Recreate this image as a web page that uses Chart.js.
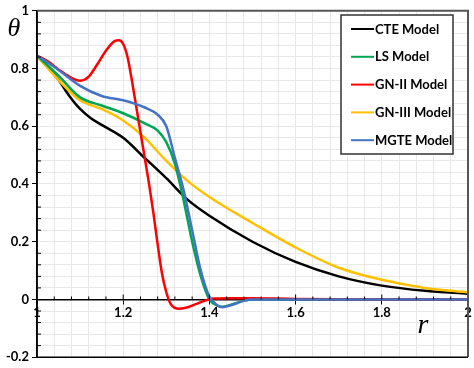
<!DOCTYPE html>
<html>
<head>
<meta charset="utf-8">
<script src="https://cdn.jsdelivr.net/npm/chart.js@4.4.1/dist/chart.umd.min.js"></script>
<style>
  html, body { margin: 0; padding: 0; background: #fff; }
  #wrap { width: 474px; height: 368px; position: relative; }
</style>
</head>
<body>
<div id="wrap"><canvas id="thetaChart"></canvas></div>
<script>
// values
const seriesNames = ['CTE Model', 'LS Model', 'GN-II Model', 'GN-III Model', 'MGTE Model'];
const seriesColors = ['#000000', '#00a651', '#ff0000', '#ffc000', '#4472c4'];

const cteR = [1, 1.05, 1.075, 1.1, 1.125, 1.15, 1.2, 1.25, 1.3, 1.35, 1.4, 1.5, 1.6, 1.7, 1.8, 1.9, 2];
const cteTheta = [0.845, 0.76, 0.705, 0.66, 0.628, 0.605, 0.56, 0.49, 0.42, 0.345, 0.29, 0.2, 0.13, 0.08, 0.048, 0.03, 0.02];

const gn3R = [1, 1.05, 1.1, 1.15, 1.2, 1.25, 1.3, 1.35, 1.4, 1.5, 1.6, 1.7, 1.8, 1.9, 2];
const gn3Theta = [0.845, 0.76, 0.69, 0.66, 0.62, 0.56, 0.48, 0.41, 0.355, 0.265, 0.18, 0.11, 0.068, 0.04, 0.025];

const lsR = [1, 1.05, 1.1, 1.15, 1.2, 1.25, 1.28, 1.3, 1.32, 1.34, 1.36, 1.38, 1.4, 1.42, 1.43, 1.45, 1.48, 1.5, 1.6, 1.8, 2];
const lsTheta = [0.845, 0.775, 0.70, 0.672, 0.645, 0.61, 0.585, 0.545, 0.47, 0.345, 0.20, 0.08, 0.0, -0.022, -0.025, -0.018, -0.004, 0, 0, 0, 0];

const mgteR = [1, 1.05, 1.1, 1.15, 1.2, 1.25, 1.28, 1.3, 1.32, 1.34, 1.36, 1.38, 1.4, 1.42, 1.43, 1.45, 1.48, 1.5, 1.6, 1.8, 2];
const mgteTheta = [0.845, 0.795, 0.74, 0.705, 0.69, 0.665, 0.64, 0.6, 0.49, 0.38, 0.24, 0.10, 0.01, -0.022, -0.027, -0.02, -0.005, 0, 0, 0, 0];

const gn2R = [1, 1.025, 1.05, 1.075, 1.1, 1.12, 1.14, 1.16, 1.18, 1.19, 1.2, 1.21, 1.22, 1.23, 1.24, 1.25, 1.26, 1.27, 1.28, 1.29, 1.3, 1.31, 1.33, 1.35, 1.37, 1.39, 1.41, 1.45, 1.5, 1.6, 1.8, 2];
const gn2Theta = [0.845, 0.825, 0.797, 0.772, 0.758, 0.772, 0.815, 0.862, 0.895, 0.898, 0.885, 0.84, 0.76, 0.67, 0.58, 0.49, 0.40, 0.30, 0.19, 0.09, 0.025, -0.015, -0.032, -0.027, -0.015, -0.004, 0.003, 0.004, 0.004, 0.002, 0, 0];

const xTicks = [1, 1.2, 1.4, 1.6, 1.8, 2];
const yTicks = [-0.2, 0, 0.2, 0.4, 0.6, 0.8, 1];

function toPoints(rs, ts) {
    return rs.map((r, i) => ({x: r, y: ts[i]}));
}

function isMajor(v, list) {
    return list.some(t => Math.abs(t - v) < 1e-6);
}

let curves = [
    [cteR, cteTheta, 4],
    [lsR, lsTheta, 2],
    [gn2R, gn2Theta, 1],
    [gn3R, gn3Theta, 3],
    [mgteR, mgteTheta, 0]
];

let datasets = curves.map((c, i) => ({
    label: seriesNames[i],
    data: toPoints(c[0], c[1]),
    borderColor: seriesColors[i],
    backgroundColor: seriesColors[i],
    borderWidth: 2.5,
    pointRadius: 0,
    cubicInterpolationMode: 'monotone',
    fill: false,
    order: c[2]
}));

// frame, inward minor ticks, axis letters and the boxed legend
const decorPlugin = {
    id: 'decor',
    afterDatasetsDraw(chart) {
        const ctx = chart.ctx;
        const a = chart.chartArea;
        const xs = chart.scales.x, ys = chart.scales.y;
        ctx.save();

        // frame
        ctx.lineWidth = 2;
        ctx.strokeStyle = '#555';
        ctx.beginPath();
        ctx.moveTo(a.left, a.top); ctx.lineTo(a.right, a.top); ctx.lineTo(a.right, a.bottom);
        ctx.stroke();
        ctx.strokeStyle = '#000';
        ctx.lineWidth = 1.5;
        ctx.beginPath();
        ctx.moveTo(a.left, a.bottom); ctx.lineTo(a.right, a.bottom);
        ctx.moveTo(a.left, a.top); ctx.lineTo(a.left, a.bottom);
        ctx.stroke();

        // minor ticks
        ctx.lineWidth = 1;
        ctx.strokeStyle = '#000';
        const y0 = ys.getPixelForValue(0);
        ctx.beginPath();
        for (let k = 1; k < 25; k++) {
            let v = 1 + k * 0.04;
            let px = xs.getPixelForValue(v);
            let len = isMajor(v, xTicks) ? 5 : 3;
            ctx.moveTo(px, y0); ctx.lineTo(px, y0 - len);
        }
        for (let k = 1; k < 30; k++) {
            let v = -0.2 + k * 0.04;
            if (isMajor(v, yTicks)) continue;
            let py = ys.getPixelForValue(v);
            ctx.moveTo(a.left, py); ctx.lineTo(a.left + 4, py);
        }
        ctx.stroke();

        // axis letters
        ctx.fillStyle = '#000';
        ctx.textAlign = 'center';
        ctx.textBaseline = 'middle';
        ctx.font = 'italic 26px "Liberation Serif"';
        ctx.fillText('\u03b8', 14, 29);
        ctx.font = 'italic 28px "Liberation Serif"';
        ctx.fillText('r', 423, 326);

        // legend box
        const bx = 341, by = 15, bw = 112, bh = 139;
        ctx.fillStyle = '#fff';
        ctx.fillRect(bx, by, bw, bh);
        ctx.strokeStyle = '#333';
        ctx.lineWidth = 1.5;
        ctx.strokeRect(bx, by, bw, bh);
        ctx.font = 'bold 13px Lato';
        ctx.textAlign = 'left';
        seriesNames.forEach((name, i) => {
            let ly = 29 + i * 27.8;
            ctx.strokeStyle = seriesColors[i];
            ctx.lineWidth = 2;
            ctx.beginPath();
            ctx.moveTo(351, ly); ctx.lineTo(374, ly);
            ctx.stroke();
            ctx.fillStyle = '#000';
            ctx.fillText(name, 375, ly + 0.5);
        });
        ctx.restore();
    }
};

new Chart(document.getElementById('thetaChart'), {
    type: 'line',
    data: {datasets: datasets},
    options: {
        responsive: true,
        maintainAspectRatio: false,
        animation: false,
        layout: {padding: {left: 0, right: 6, top: 6, bottom: 6}},
        plugins: {
            legend: {display: false},
            tooltip: {enabled: false}
        },
        scales: {
            x: {
                type: 'linear',
                position: {y: 0},
                min: 1,
                max: 2,
                ticks: {
                    stepSize: 0.04,
                    autoSkip: false,
                    maxRotation: 0,
                    padding: 2,
                    color: '#000',
                    font: {family: 'Lato', weight: 'bold', size: 13},
                    callback: v => isMajor(v, xTicks) ? String(Number(v.toFixed(2))) : ''
                },
                grid: {
                    color: '#e8e8e8',
                    lineWidth: 1,
                    tickLength: 4,
                    tickColor: c => isMajor(c.tick.value, xTicks) ? '#000' : 'rgba(0,0,0,0)'
                },
                border: {color: '#000', width: 1.5}
            },
            y: {
                min: -0.2,
                max: 1,
                afterFit(scale) { scale.width = 37; },
                ticks: {
                    stepSize: 0.04,
                    autoSkip: false,
                    padding: 3,
                    color: '#000',
                    font: {family: 'Lato', weight: 'bold', size: 13},
                    callback: v => isMajor(v, yTicks) ? String(Number(v.toFixed(2))) : ''
                },
                grid: {
                    color: '#e8e8e8',
                    lineWidth: 1,
                    tickLength: 5,
                    tickColor: c => isMajor(c.tick.value, yTicks) ? '#000' : 'rgba(0,0,0,0)'
                },
                border: {color: '#000', width: 1.5}
            }
        }
    },
    plugins: [decorPlugin]
});
</script>
</body>
</html>
